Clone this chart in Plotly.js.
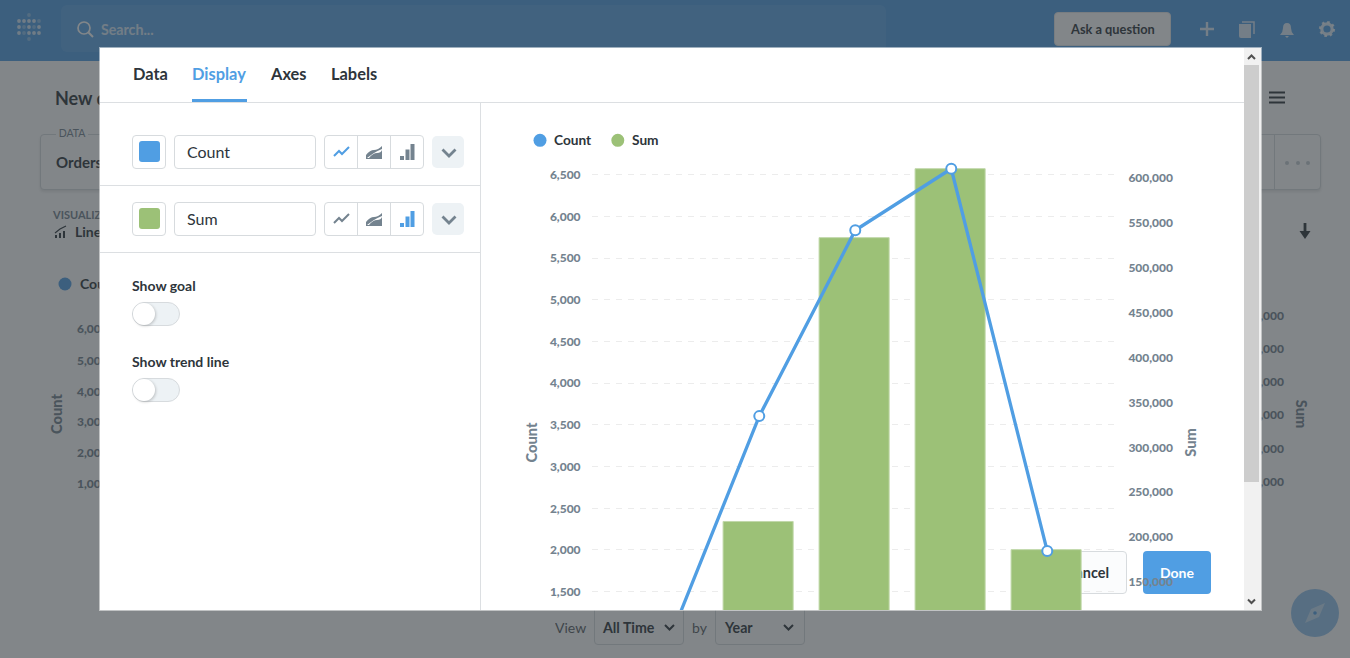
<!DOCTYPE html>
<html><head><meta charset="utf-8">
<script src="https://cdn.plot.ly/plotly-3.0.1.min.js"></script>
<style>
html,body{margin:0;padding:0;width:1350px;height:658px;overflow:hidden;background:#fff;font-family:Lato,sans-serif;color:#2e353b}
.a{position:absolute;white-space:nowrap}
.box{position:absolute;box-sizing:border-box;border:1px solid #d7dbde;border-radius:4px;background:#fff}
.t{position:absolute;white-space:nowrap;line-height:1;transform:translateY(-50%)}
svg{position:absolute;overflow:visible}
#overlay{position:absolute;left:0;top:0;width:1350px;height:658px;background:rgba(46,53,59,.6)}
#modal{position:absolute;left:100px;top:48px;width:1161px;height:562px;background:#fff;overflow:hidden;box-shadow:0 0 0 1px rgba(255,255,255,.5)}
#chart{position:absolute;left:381px;top:55px;width:763px;height:697px}
</style></head><body>
<div id="bg"></div>
<div id="overlay"></div>
<div id="modal"></div>
<script>
// ---- chart data ----
var years = [2016, 2017, 2018, 2019, 2020];
var countValues = [738, 3606, 5836, 6574, 1987];
var sumValues = [42156, 217360, 533630, 610470, 185950];
var seriesNames = ['Count', 'Sum'];
var countTicks = [1500, 2000, 2500, 3000, 3500, 4000, 4500, 5000, 5500, 6000, 6500];
var sumTicks = [150000, 200000, 250000, 300000, 350000, 400000, 450000, 500000, 550000, 600000];
var blue = '#509ee3', green = '#9cc177', gray = '#74838f';

// ---- surrounding application (behind the dialog) ----
var bg = document.getElementById('bg');
function T(x, y, s, txt, extra){return '<div class="t" style="left:'+x+'px;top:'+y+'px;font-size:'+s+'px;'+(extra||'')+'">'+txt+'</div>';}
var h = '';
h += '<div class="a" style="left:0;top:0;width:1350px;height:61px;background:'+blue+'"></div>';
h += '<div class="a" style="left:61px;top:5px;width:825px;height:47px;border-radius:6px;background:#5ea6e6"></div>';
h += '<svg style="left:0;top:0;opacity:.75" width="60" height="60">';
[[19,21],[19,27],[19,33],[24,21],[24,33],[29,15],[29,21],[29,27],[29,33],[29,39],[34,21],[34,33],[39,21],[39,27],[39,33],[24,27],[34,27]].forEach(function(p,i){
  h += '<circle cx="'+p[0]+'" cy="'+p[1]+'" r="1.9" fill="#fff" opacity="'+((i==15||i==16||i==4||i==12||i==5||i==9)?0.45:1)+'"/>';});
h += '</svg>';
h += '<svg style="left:77px;top:21px" width="18" height="18"><circle cx="7" cy="7" r="6" fill="none" stroke="#fff" stroke-width="1.7"/><path d="M11.5 11.5L16 16" stroke="#fff" stroke-width="2"/></svg>';
h += T(101,29.5,14.2,'Search...','font-weight:700;color:#fff;opacity:.75');
h += '<div class="a" style="left:1054px;top:12px;width:117px;height:34px;box-sizing:border-box;background:#fff;border:1px solid #e6e8ea;border-radius:4px"></div>';
h += T(1071,29,12.8,'Ask a question','font-weight:700');
h += '<svg style="left:1199px;top:21px" width="140" height="18">'+
 '<path d="M8 1V15M1 8H15" stroke="#fff" stroke-width="2.4" opacity=".8"/>'+
 '<path d="M40 3H52V17H42Q40 17 40 15Z" fill="#fff" opacity=".8"/><path d="M43 1H55V13" fill="none" stroke="#fff" stroke-width="1.5" opacity=".8"/>'+
 '<path d="M81 14Q84 11 84 7Q84 2 88 2Q92 2 92 7Q92 11 95 14Z M86 15H90L88 17Z" fill="#fff" opacity=".8"/>'+
 '<circle cx="128" cy="8" r="5.2" fill="none" stroke="#fff" stroke-width="3.2" opacity=".8"/><circle cx="128" cy="8" r="7" fill="none" stroke="#fff" stroke-width="2.2" stroke-dasharray="2.6 2.9" opacity=".8"/></svg>';
h += T(55,98,18,'New question','font-weight:700');
h += '<svg style="left:1269px;top:91px" width="16" height="13"><path d="M0 1.5H16M0 6.500H16M0 11.500H16" stroke="#2e353b" stroke-width="2.200"/></svg>';
h += '<div class="box" style="left:40px;top:134px;width:1281px;height:56px;box-shadow:0 2px 3px rgba(0,0,0,.1)"></div>';
h += '<div class="a" style="left:1274px;top:134px;width:1px;height:56px;background:#d7dbde"></div>';
h += '<svg style="left:1285px;top:160px" width="30" height="6"><circle cx="2" cy="3" r="2" fill="#c6cdd2"/><circle cx="13" cy="3" r="2" fill="#c6cdd2"/><circle cx="23" cy="3" r="2" fill="#c6cdd2"/></svg>';
h += T(56,133,10.5,'&nbsp;DATA&nbsp;','background:#fff;color:#74838f');
h += T(56,162,15,'Orders','font-weight:700');
h += T(53,214,11,'VISUALIZATION','font-weight:700;color:#74838f');
h += '<svg style="left:55px;top:226px" width="12" height="12"><path d="M0 7L5 3L11 0" fill="none" stroke="#2e353b" stroke-width="1.200"/><path d="M0 9h2v3h-2zM4 7h2v5h-2zM8 5h2v7h-2z" fill="#2e353b"/></svg>';
h += T(75,232,14,'Line + bar','font-weight:700');
h += '<svg style="left:1299px;top:223px" width="12" height="16"><path d="M6 0V11" fill="none" stroke="#2e353b" stroke-width="2.800"/><path d="M0.5 8L6 16L11.5 8Z" fill="#2e353b"/></svg>';
h += '<svg style="left:58px;top:277px" width="14" height="14"><circle cx="7" cy="7" r="6.500" fill="'+blue+'"/></svg>';
h += T(80,284,14,'Count','font-weight:700');
var lv=['6,000','5,000','4,000','3,000','2,000','1,000'], ly=[329,361,392,422,453,484];
lv.forEach(function(v,i){h += T(77,ly[i],12,v,'font-weight:900;color:#74838f');});
var rv=['600,000','500,000','400,000','300,000','200,000','100,000'], ry=[316,349,382,415,449,482];
rv.forEach(function(v,i){h += '<div class="t" style="right:66px;top:'+ry[i]+'px;font-size:12px;font-weight:900;color:#74838f">'+v+'</div>';});
h += '<div class="t" style="left:57px;top:414px;font-size:14.6px;font-weight:900;color:#74838f;transform:translate(-50%,-50%) rotate(-90deg)">Count</div>';
h += '<div class="t" style="left:1301px;top:414px;font-size:14.6px;font-weight:900;color:#74838f;transform:translate(-50%,-50%) rotate(90deg)">Sum</div>';
h += T(555,628,14,'View','color:#2e353b;opacity:.8');
h += '<div class="box" style="left:594px;top:600px;width:90px;height:45px"></div>';
h += T(603,628,14.2,'All Time','font-weight:700');
h += T(692,628,14,'by','color:#2e353b;opacity:.8');
h += '<div class="box" style="left:715px;top:600px;width:90px;height:45px"></div>';
h += T(725,628,14.2,'Year','font-weight:700');
h += '<svg style="left:664px;top:624px" width="140" height="8"><path d="M1 1L5.500 5.500L10 1M120 1L124.500 5.500L129 1" fill="none" stroke="#2e353b" stroke-width="2"/></svg>';
h += '<svg style="left:1291px;top:589px" width="48" height="48"><circle cx="24" cy="24" r="24" fill="'+blue+'" opacity=".62"/><path d="M34 14L28 28L14 34L20 20Z" fill="#fff" opacity=".45"/><circle cx="24" cy="24" r="1.800" fill="'+blue+'"/></svg>';
bg.innerHTML = h;

// ---- dialog ----
function P(x,y,s,txt,extra){return T(x-100,y-48,s,txt,extra);}
function lineIcon(x,y,c){return '<svg style="left:'+(x-100)+'px;top:'+(y-48)+'px" width="17" height="12"><path d="M1 10L6 5L9 8L16 1" fill="none" stroke="'+c+'" stroke-width="2"/></svg>';}
function areaIcon(x,y,c){return '<svg style="left:'+(x-100)+'px;top:'+(y-48)+'px" width="17" height="13"><path d="M0 9Q4 4 8 4T16 0V3Q11 5 8 7T1 12H16V13H0Z" fill="'+c+'"/><path d="M3 12Q7 7 11 7T16 4V13H3Z" fill="'+c+'"/></svg>';}
function barIcon(x,y,c){return '<svg style="left:'+(x-100)+'px;top:'+(y-48)+'px" width="15" height="16"><path d="M0 12h4v4h-4zM5.500 5.500h4v10.500h-4zM10.500 0h4v16h-4z" fill="'+c+'"/></svg>';}
function row(y,color,name,active){
  var s='';
  s += '<div class="box" style="left:32px;top:'+(y-48)+'px;width:34px;height:34px"></div>';
  s += '<div class="a" style="left:39px;top:'+(y-48+6)+'px;width:21px;height:21px;border-radius:3px;background:'+color+'"></div>';
  s += '<div class="box" style="left:74px;top:'+(y-48)+'px;width:142px;height:34px"></div>';
  s += P(187,y+16.5,16,name,'');
  s += '<div class="box" style="left:224px;top:'+(y-48)+'px;width:100px;height:34px"></div>';
  s += '<div class="a" style="left:257px;top:'+(y-48)+'px;width:1px;height:34px;background:#d7dbde"></div>';
  s += '<div class="a" style="left:290px;top:'+(y-48)+'px;width:1px;height:34px;background:#d7dbde"></div>';
  s += lineIcon(333,y+11,active=='line'?blue:gray)+areaIcon(366,y+11,gray)+barIcon(400,y+9,active=='bar'?blue:gray);
  s += '<div class="a" style="left:332px;top:'+(y-48+1)+'px;width:32px;height:32px;border-radius:5px;background:#edf2f5"></div>';
  s += '<svg style="left:341px;top:'+(y-48+13)+'px" width="16" height="10"><path d="M1.500 1.500L8 8L14.500 1.500" fill="none" stroke="'+gray+'" stroke-width="2.800"/></svg>';
  return s;
}
function toggle(y){
  return '<div class="a" style="left:32px;top:'+(y-48)+'px;width:48px;height:24px;box-sizing:border-box;border:1px solid #d7dbde;border-radius:12px;background:#edf2f5"></div>'+
  '<div class="a" style="left:33px;top:'+(y-48+1)+'px;width:22px;height:22px;border-radius:11px;background:#fff;box-shadow:1px 1px 3px rgba(0,0,0,.2)"></div>';
}
var m='';
m += P(133,74,16.4,'Data','font-weight:700');
m += P(192,74,16.4,'Display','font-weight:700;color:'+blue);
m += P(271,74,16.4,'Axes','font-weight:700');
m += P(331,74,16.4,'Labels','font-weight:700');
m += '<div class="a" style="left:92px;top:51px;width:55px;height:3px;background:'+blue+'"></div>';
m += '<div class="a" style="left:0;top:54px;width:1144px;height:1px;background:#dcdfe2"></div>';
m += '<div class="a" style="left:380px;top:55px;width:1px;height:507px;background:#dcdfe2"></div>';
m += '<div class="a" style="left:0;top:137px;width:380px;height:1px;background:#dcdfe2"></div>';
m += '<div class="a" style="left:0;top:204px;width:380px;height:1px;background:#dcdfe2"></div>';
m += row(135,blue,seriesNames[0],'line');
m += row(202,green,seriesNames[1],'bar');
m += P(132,286,14,'Show goal','font-weight:700');
m += toggle(302);
m += P(132,362,14,'Show trend line','font-weight:700');
m += toggle(378);
// footer buttons sit underneath the chart
m += '<div class="box" style="left:940px;top:503px;width:87px;height:43px;background:#fbfcfd"></div>';
m += P(1066,573,14.4,'Cancel','font-weight:700');
m += '<div class="a" style="left:1043px;top:503px;width:68px;height:43px;border-radius:4px;background:'+blue+'"></div>';
m += P(1160,573,14,'Done','font-weight:700;color:#fff');
m += '<div id="chart"></div>';
// scrollbar
m += '<div class="a" style="left:1144px;top:0;width:17px;height:562px;background:#f1f1f1"></div>';
m += '<div class="a" style="left:1144px;top:17px;width:15px;height:417px;background:#cdcdcd"></div>';
m += '<svg style="left:1147px;top:6px" width="10" height="7"><path d="M1 5L4.500 1.500L8 5" fill="none" stroke="#505050" stroke-width="2"/></svg>';
m += '<svg style="left:1147px;top:550px" width="10" height="7"><path d="M1 1.500L4.500 5L8 1.500" fill="none" stroke="#505050" stroke-width="2"/></svg>';
document.getElementById('modal').innerHTML = m;

// ---- the chart ----
var W = 763, H = 697;
var fontTick = {family:'Lato', size:12, color:gray, weight:900};
var fontTitle = {family:'Lato', size:14.6, color:gray, weight:900};
var plotH = 565.4;  // plot area height: y from 160 to 725.4 on the page
var traces = [
 {type:'bar', name:seriesNames[1], x:years, y:sumValues, yaxis:'y', xaxis:'x', width:0.73, offset:-0.377,
  marker:{color:green, line:{color:'#c1d8aa', width:1}}, showlegend:false},
 {type:'scatter', mode:'lines+markers', name:seriesNames[0], x:years, y:countValues, yaxis:'y2', xaxis:'x',
  line:{color:blue, width:3.3}, marker:{size:10, color:'#fff', line:{color:blue, width:2}}, showlegend:false, cliponaxis:false}
];
var layout = {
 width:W, height:H, margin:{l:110.7, r:127.3, t:57, b:74.6},
 paper_bgcolor:'rgba(0,0,0,0)', plot_bgcolor:'rgba(0,0,0,0)', showlegend:false, hovermode:false,
 font:{family:'Lato'},
 xaxis:{type:'linear', range:[2015.2575,2020.7265], tickvals:years, tickformat:'d', showticklabels:false, showgrid:false, zeroline:false, showline:false},
 yaxis:{side:'right', range:[-9464,620156], tickvals:sumTicks, tickformat:',d', showgrid:false, zeroline:false, showline:false,
   ticks:'outside', ticklen:8, tickcolor:'rgba(0,0,0,0)', tickfont:fontTick,
   title:{text:seriesNames[1], font:fontTitle, standoff:13.5}},
 yaxis2:{overlaying:'y', side:'left', range:[-100,6679], tickvals:countTicks, tickformat:',d', showgrid:true, griddash:'6px,6px', gridcolor:'#ececec', gridwidth:1, zeroline:false, showline:false,
   ticks:'outside', ticklen:8, tickcolor:'rgba(0,0,0,0)', tickfont:fontTick,
   title:{text:seriesNames[0], font:fontTitle, standoff:8.5}},
 annotations:[
  {xref:'paper',yref:'paper',x:(552-591.7)/525,y:1-(139-160)/plotH,xanchor:'left',yanchor:'middle',text:seriesNames[0],showarrow:false,font:{family:'Lato',size:13.7,weight:700,color:'#2e353b'}},
  {xref:'paper',yref:'paper',x:(630-591.7)/525,y:1-(139-160)/plotH,xanchor:'left',yanchor:'middle',text:seriesNames[1],showarrow:false,font:{family:'Lato',size:13.7,weight:700,color:'#2e353b'}}
 ],
 shapes:[
  {type:'circle',xref:'paper',yref:'paper',xsizemode:'pixel',ysizemode:'pixel',xanchor:(539.7-591.7)/525,yanchor:1-(140.3-160)/plotH,x0:-6.5,x1:6.5,y0:-6.5,y1:6.5,fillcolor:blue,line:{width:0}},
  {type:'circle',xref:'paper',yref:'paper',xsizemode:'pixel',ysizemode:'pixel',xanchor:(617.500-591.7)/525,yanchor:1-(140.3-160)/plotH,x0:-6.5,x1:6.5,y0:-6.5,y1:6.5,fillcolor:green,line:{width:0}}
 ]
};
Plotly.newPlot('chart', traces, layout, {displayModeBar:false, staticPlot:true});
</script>
</body></html>
